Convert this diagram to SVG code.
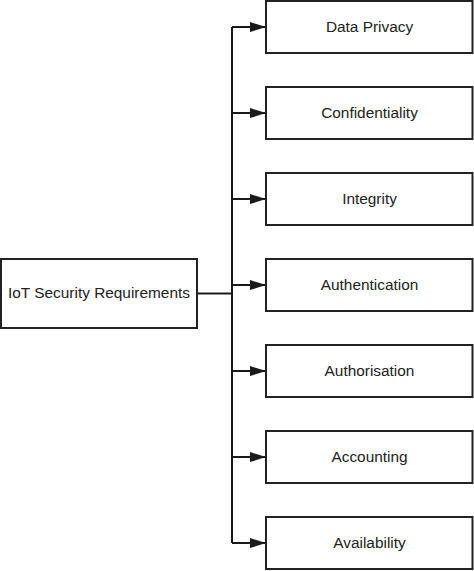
<svg xmlns="http://www.w3.org/2000/svg" width="474" height="571" viewBox="0 0 474 571">
<defs>
<marker id="ah" markerUnits="userSpaceOnUse" markerWidth="16" markerHeight="10" refX="16" refY="5" orient="auto">
<path d="M0,0 L16,5 L0,10 Z" fill="#1a1a1a"/>
</marker>
<style>
.box{fill:#fff;stroke:#222;stroke-width:2}
.lbl{font-family:"Liberation Sans",Arial,sans-serif;font-size:15.4px;fill:#222;text-anchor:middle}
.ln{fill:none;stroke:#1a1a1a;stroke-width:2}
</style>
</defs>
<rect width="474" height="571" fill="#fff"/>
<g id="connectors">
<path class="ln" d="M197,293.5 H232"/>
<path class="ln" d="M232,27 V543"/>
<path class="ln" d="M232,27 H266" marker-end="url(#ah)"/>
<path class="ln" d="M232,113 H266" marker-end="url(#ah)"/>
<path class="ln" d="M232,199 H266" marker-end="url(#ah)"/>
<path class="ln" d="M232,285 H266" marker-end="url(#ah)"/>
<path class="ln" d="M232,371 H266" marker-end="url(#ah)"/>
<path class="ln" d="M232,457 H266" marker-end="url(#ah)"/>
<path class="ln" d="M232,543 H266" marker-end="url(#ah)"/>
</g>
<g id="root"><rect class="box" x="1" y="259" width="196" height="69"/><text class="lbl" x="99" y="298">IoT Security Requirements</text></g>
<g id="n1"><rect class="box" x="266" y="1" width="206.5" height="52"/><text class="lbl" x="369.5" y="31.5">Data Privacy</text></g>
<g id="n2"><rect class="box" x="266" y="87" width="206.5" height="52"/><text class="lbl" x="369.5" y="117.5">Confidentiality</text></g>
<g id="n3"><rect class="box" x="266" y="173" width="206.5" height="52"/><text class="lbl" x="369.5" y="203.5">Integrity</text></g>
<g id="n4"><rect class="box" x="266" y="259" width="206.5" height="52"/><text class="lbl" x="369.5" y="289.5">Authentication</text></g>
<g id="n5"><rect class="box" x="266" y="345" width="206.5" height="52"/><text class="lbl" x="369.5" y="375.5">Authorisation</text></g>
<g id="n6"><rect class="box" x="266" y="431" width="206.5" height="52"/><text class="lbl" x="369.5" y="461.5">Accounting</text></g>
<g id="n7"><rect class="box" x="266" y="517" width="206.5" height="52"/><text class="lbl" x="369.5" y="547.5">Availability</text></g>
</svg>
